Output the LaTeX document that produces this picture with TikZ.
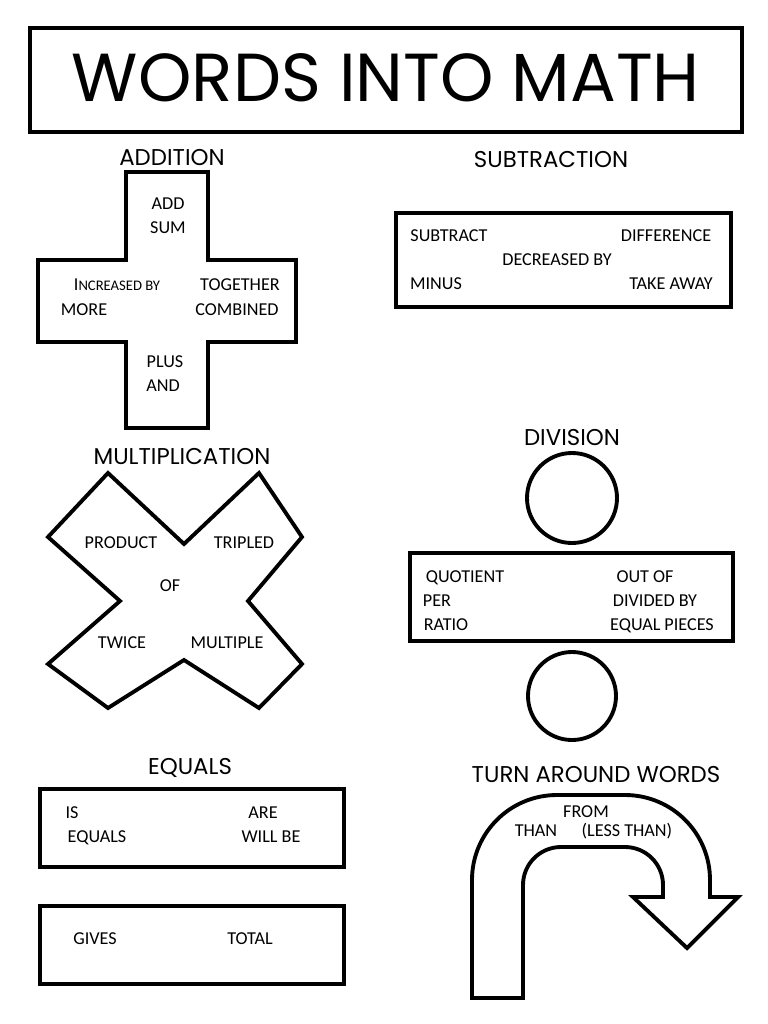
\documentclass[tikz,border=0pt]{standalone}
\usepackage{fontspec}
\setmainfont{Carlito}
\newfontfamily\headfont{Poppins}
\begin{document}
\begin{tikzpicture}[x=0.03cm,y=-0.03cm,
  outl/.style={draw=black,line width=3.3pt,line join=miter,fill=white},
  word/.style={font=\fontsize{15.5}{17}\selectfont,inner sep=0pt},
  head/.style={font=\headfont\fontsize{19.5}{22}\selectfont,inner sep=0pt}]
\useasboundingbox (0,0) rectangle (768,1024);
% title
\draw[line width=2.8pt] (30,28) rectangle (742,132);
\node[inner sep=0pt,font=\headfont\fontsize{58}{64}\selectfont] (title) at (386,78) {WORDS INTO MATH};
% addition
\node[head] (hadd) at (172,158) {ADDITION};
\draw[outl] (126,172) -- (208,172) -- (208,260) -- (296,260) -- (296,342) -- (208,342) -- (208,428) -- (126,428) -- (126,342) -- (38,342) -- (38,260) -- (126,260) -- cycle;
\node[word] (a1) at (168,204) {ADD};
\node[word] (a2) at (168,228) {SUM};
\node[word] (a3) at (117,285) {I{\fontsize{12.5}{14}\selectfont NCREASED BY}};
\node[word] (a4) at (84,310) {MORE};
\node[word] (a5) at (240,285) {TOGETHER};
\node[word] (a6) at (237,310) {COMBINED};
\node[word] (a7) at (165,362) {PLUS};
\node[word] (a8) at (163,386) {AND};
% subtraction
\node[head] (hsub) at (551,160) {SUBTRACTION};
\draw[outl] (396,213) rectangle (731,307);
\node[word] (s1) at (449,236) {SUBTRACT};
\node[word] (s2) at (666,236) {DIFFERENCE};
\node[word] (s3) at (557,260) {DECREASED BY};
\node[word] (s4) at (436,284) {MINUS};
\node[word] (s5) at (671,284) {TAKE AWAY};
% multiplication
\node[head] (hmul) at (182,457) {MULTIPLICATION};
\draw[outl] (108,473) -- (184,544) -- (259,473) -- (302,537) -- (248,601) -- (302,664) -- (259,708) -- (184,660) -- (108,708) -- (48,664) -- (120,601) -- (48,537) -- cycle;
\node[word] (m1) at (121,543) {PRODUCT};
\node[word] (m2) at (244,543) {TRIPLED};
\node[word] (m3) at (170,586) {OF};
\node[word] (m4) at (122,643) {TWICE};
\node[word] (m5) at (227,643) {MULTIPLE};
% division
\node[head] (hdiv) at (572,438) {DIVISION};
\draw[outl] (572,498) circle[radius=1.35cm];
\draw[outl] (410,553) rectangle (733,641);
\draw[outl] (572,696) circle[radius=1.32cm];
\node[word,anchor=base] (d1) at (465,582) {QUOTIENT};
\node[word,anchor=base] (d2) at (645,582) {OUT OF};
\node[word,anchor=base] (d3) at (437,606) {PER};
\node[word,anchor=base] (d4) at (655,606) {DIVIDED BY};
\node[word,anchor=base] (d5) at (446,630) {RATIO};
\node[word,anchor=base] (d6) at (662,630) {EQUAL PIECES};
% equals
\node[head] (heq) at (190,768) {EQUALS};
\draw[outl] (40,789) rectangle (344,867);
\draw[outl] (40,906) rectangle (344,984);
\node[word,anchor=base] (e1) at (72,818) {IS};
\node[word,anchor=base] (e2) at (263,818) {ARE};
\node[word,anchor=base] (e3) at (97,842) {EQUALS};
\node[word,anchor=base] (e4) at (271,842) {WILL BE};
\node[word,anchor=base] (e5) at (95,944) {GIVES};
\node[word,anchor=base] (e6) at (250,944) {TOTAL};
% turn around
\node[head] (hturn) at (596,775) {TURN AROUND WORDS};
\draw[outl] (472,998) -- (472,880) .. controls (472,833) and (510,795) .. (557,795) -- (625,795)
  .. controls (672,795) and (710,833) .. (710,880) -- (710,897) -- (738,897) -- (687,948) -- (633,897)
  -- (663,897) -- (663,885) .. controls (663,864) and (646,847) .. (625,847) -- (561,847)
  .. controls (540,847) and (523,864) .. (523,885) -- (523,998) -- cycle;
\node[word,anchor=base] (t1) at (586,817) {FROM};
\node[word,anchor=base] (t2) at (536,836) {THAN};
\node[word,anchor=base] (t3) at (627,836) {(LESS THAN)};
\end{tikzpicture}
\end{document}
